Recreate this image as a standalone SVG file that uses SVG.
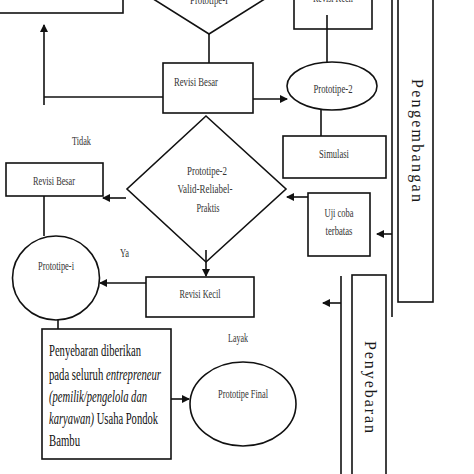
<svg xmlns="http://www.w3.org/2000/svg" width="474" height="474" viewBox="0 0 474 474">
<style>
  .s{fill:#fff;stroke:#111;stroke-width:1.6}
  .c{fill:none;stroke:#111;stroke-width:1.6}
  .t{font-family:"Liberation Serif","Times New Roman",serif;font-size:13px;fill:#333}
  .m{text-anchor:middle}
  .b{font-family:"Liberation Serif","Times New Roman",serif;font-size:17px;fill:#111}
  .i{font-style:italic}
  .v{font-family:"Liberation Serif","Times New Roman",serif;font-size:16px;fill:#1a1a1a}
</style>
<defs>
  <marker id="ah" markerWidth="8" markerHeight="8" refX="7" refY="4" orient="auto" markerUnits="userSpaceOnUse">
    <path d="M0,0 L8,4 L0,8 Z" fill="#111"/>
  </marker>
</defs>
<rect width="474" height="474" fill="#fff"/>

<g id="phase-pengembangan">
  <rect class="s" x="398" y="-5" width="35" height="307"/>
  <text class="v" transform="translate(412,79) rotate(90)" textLength="123" lengthAdjust="spacing">Pengembangan</text>
</g>
<g id="phase-penyebaran">
  <rect class="s" x="352" y="275" width="34" height="210"/>
  <text class="v" transform="translate(365,341) rotate(90)" textLength="92" lengthAdjust="spacing">Penyebaran</text>
</g>

<g id="top-left-box">
  <rect class="s" x="-5" y="-20" width="128" height="33"/>
</g>
<g id="prototipe-1">
  <polygon class="s" points="209,-54 279,-10 209,34 139,-10"/>
  <text class="t m" x="209" y="4" textLength="38" lengthAdjust="spacingAndGlyphs">Prototipe-I</text>
</g>
<g id="top-right-box">
  <rect class="s" x="294" y="-20" width="78" height="49"/>
  <text class="t m" x="333" y="2" textLength="40" lengthAdjust="spacingAndGlyphs">Revisi Kecil</text>
</g>
<g id="revisi-besar-1">
  <rect class="s" x="163" y="63" width="90" height="50"/>
  <text class="t" x="174" y="86" textLength="44" lengthAdjust="spacingAndGlyphs">Revisi Besar</text>
</g>
<g id="prototipe-2">
  <ellipse class="s" cx="332" cy="86" rx="45" ry="24"/>
  <text class="t m" x="333" y="93" textLength="39" lengthAdjust="spacingAndGlyphs">Prototipe-2</text>
</g>
<g id="simulasi">
  <rect class="s" x="283" y="136" width="103" height="42"/>
  <text class="t m" x="334" y="158" textLength="30" lengthAdjust="spacingAndGlyphs">Simulasi</text>
</g>
<g id="decision">
  <polygon class="s" points="206,116 286,189 206,262 127,189"/>
  <text class="t m" x="207" y="175" textLength="40" lengthAdjust="spacingAndGlyphs">Prototipe-2</text>
  <text class="t m" x="205" y="193" textLength="55" lengthAdjust="spacingAndGlyphs">Valid-Reliabel-</text>
  <text class="t m" x="208" y="212" textLength="23" lengthAdjust="spacingAndGlyphs">Praktis</text>
</g>
<g id="uji-coba">
  <rect class="s" x="308" y="193" width="62" height="63"/>
  <text class="t m" x="339" y="217" textLength="29" lengthAdjust="spacingAndGlyphs">Uji coba</text>
  <text class="t m" x="339" y="235" textLength="27" lengthAdjust="spacingAndGlyphs">terbatas</text>
</g>
<g id="revisi-besar-2">
  <rect class="s" x="6" y="163" width="97" height="33"/>
  <text class="t m" x="54" y="185" textLength="42" lengthAdjust="spacingAndGlyphs">Revisi Besar</text>
</g>
<g id="prototipe-i">
  <ellipse class="s" cx="56" cy="278" rx="43.5" ry="42"/>
  <text class="t m" x="56" y="270" textLength="36" lengthAdjust="spacingAndGlyphs">Prototipe-i</text>
</g>
<g id="revisi-kecil">
  <rect class="s" x="146" y="277" width="108" height="40"/>
  <text class="t m" x="200" y="298" textLength="41" lengthAdjust="spacingAndGlyphs">Revisi Kecil</text>
</g>
<g id="penyebaran-box">
  <rect class="s" x="42" y="329" width="129" height="130"/>
  <text class="b" x="49" y="356" textLength="92" lengthAdjust="spacingAndGlyphs">Penyebaran diberikan</text>
  <text class="b" x="49" y="380" textLength="112" lengthAdjust="spacingAndGlyphs">pada seluruh <tspan class="i">entrepreneur</tspan></text>
  <text class="b i" x="49" y="402" textLength="98" lengthAdjust="spacingAndGlyphs">(pemilik/pengelola dan</text>
  <text class="b" x="49" y="424" textLength="109" lengthAdjust="spacingAndGlyphs"><tspan class="i">karyawan)</tspan> Usaha Pondok</text>
  <text class="b" x="49" y="446" textLength="31" lengthAdjust="spacingAndGlyphs">Bambu</text>
</g>
<g id="prototipe-final">
  <ellipse class="s" cx="243" cy="404" rx="53" ry="42"/>
  <text class="t m" x="243" y="398" textLength="50" lengthAdjust="spacingAndGlyphs">Prototipe Final</text>
</g>

<g id="labels">
  <text class="t" x="72" y="145" textLength="19" lengthAdjust="spacingAndGlyphs">Tidak</text>
  <text class="t" x="120" y="257" textLength="9" lengthAdjust="spacingAndGlyphs">Ya</text>
  <text class="t" x="228" y="342" textLength="20" lengthAdjust="spacingAndGlyphs">Layak</text>
</g>

<g id="connectors">
  <path class="c" d="M209,34 V63"/>
  <path class="c" d="M163,97 H44"/>
  <path class="c" d="M44,105 V25" marker-end="url(#ah)"/>
  <path class="c" d="M253,99 H287" marker-end="url(#ah)"/>
  <path class="c" d="M327,15 V62"/>
  <path class="c" d="M321,110 V136"/>
  <path class="c" d="M308,197 H287" marker-end="url(#ah)"/>
  <path class="c" d="M392,-5 V317"/>
  <path class="c" d="M392,234 H377" marker-end="url(#ah)"/>
  <path class="c" d="M126,198 H103" marker-end="url(#ah)"/>
  <path class="c" d="M44,196 V236"/>
  <path class="c" d="M206,250 V276" marker-end="url(#ah)"/>
  <path class="c" d="M146,283 H100" marker-end="url(#ah)"/>
  <path class="c" d="M58,320 V329"/>
  <path class="c" d="M171,399 H189" marker-end="url(#ah)"/>
  <path class="c" d="M341,276 V480"/>
  <path class="c" d="M341,303 H323" marker-end="url(#ah)"/>
</g>
</svg>
